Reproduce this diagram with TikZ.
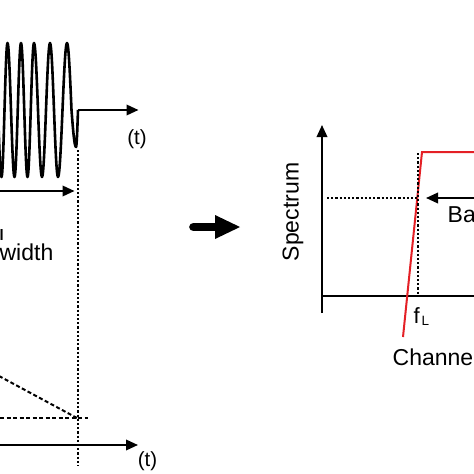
\documentclass[tikz,border=0pt]{standalone}
\usepackage{fontspec}
\setmainfont{Liberation Sans}
\usetikzlibrary{arrows.meta}
\definecolor{specred}{RGB}{228,32,38}
\tikzset{
 axis/.style={line width=2pt, -{Triangle[length=12pt,width=10.5pt]}},
 dotline/.style={line width=2pt, dash pattern=on 2.2pt off 2pt},
 dashline/.style={line width=2pt, dash pattern=on 4pt off 2.5pt},
 lab/.style={inner sep=0pt, font=\fontsize{23}{27}\selectfont},
 tlab/.style={inner sep=0pt, font=\fontsize{20.5}{24}\selectfont},
 wave/.style={line width=2.6pt, line join=round},
 redline/.style={specred, line width=2pt},
}
\begin{document}
\begin{tikzpicture}[x=1pt,y=-1pt]
\useasboundingbox (0,0) rectangle (474,474);
\clip (0,0) rectangle (474,474);
\fill[white] (0,0) rectangle (474,474);

% ---------- time-domain pulse ----------
\coordinate (w0) at (-2,110);
\coordinate (wend) at (78,110);
\draw[wave] (w0) sin (1.5,177) cos (4.5,110) sin (7.5,43) cos (11,110)
  sin (14.5,177) cos (17.75,110) sin (21,43) cos (24.25,110)
  sin (27.5,177) cos (30.75,110) sin (34,43) cos (38,110)
  sin (42,177) cos (46,110) sin (50,43) cos (54,110)
  sin (58,177) cos (62.5,110) sin (67,43) cos (71.5,110)
  sin (76,147) cos (wend);
\coordinate (t1end) at (138.5,110);
\draw[axis] (wend) -- (t1end);
\node[tlab] (t1) at (137,139) {(t)};

% pulse width arrow
\coordinate (pwA) at (-2,191);
\coordinate (pwB) at (74.5,191);
\draw[axis] (pwA) -- (pwB);
\begin{scope}
  \clip (0,229) rectangle (6,242);
  \node[lab, anchor=base west] (frag) at (-1.2,240) {l};
\end{scope}
\node[lab, anchor=base east] (wlab) at (53.5,260) {width};

% vertical dotted marker
\coordinate (vA) at (78,150);
\coordinate (vB) at (78,466);
\draw[dotline] (vA) -- (vB);

% lower time axis
\coordinate (sA) at (-1,376);
\coordinate (sB) at (77,418);
\draw[dashline] (sA) -- (sB);
\coordinate (hA) at (0,418);
\coordinate (hB) at (88,418);
\draw[dashline] (hA) -- (hB);
\coordinate (bA) at (-2,445);
\coordinate (bB) at (138,445);
\draw[axis] (bA) -- (bB);
\node[tlab] (t2) at (147.5,461.5) {(t)};

% ---------- big transition arrow ----------
\coordinate (baA) at (193.5,227);
\coordinate (baB) at (217,227);
\draw[line width=8.7pt, line cap=round] (baA) -- (baB);
\fill (215,215) -- (240,227) -- (215,239) -- cycle;

% ---------- spectrum ----------
\coordinate (yA) at (322,313);
\coordinate (yB) at (322,125);
\draw[axis] (yA) -- (yB);
\coordinate (xA) at (321,295.5);
\coordinate (xB) at (480,295.5);
\draw[line width=2pt] (xA) -- (xB);
\node[lab, rotate=90] (spec) at (293,212) {Spectrum};

\coordinate (r0) at (403,337);
\coordinate (r1) at (422,152);
\coordinate (r2) at (480,152);
\draw[redline] (r0) -- (r1) -- (r2);

\coordinate (fA) at (418,153);
\coordinate (fB) at (418,295);
\draw[dotline] (fA) -- (fB);
\coordinate (dA) at (327,198);
\coordinate (dB) at (418,198);
\draw[dotline] (dA) -- (dB);
\coordinate (bwA) at (480,198);
\coordinate (bwB) at (426,198);
\draw[axis] (bwA) -- (bwB);
\node[lab, anchor=base west] (ba) at (447.5,222) {Ba};

\node[inner sep=0pt, anchor=base west, font=\fontsize{22}{26}\selectfont] (f) at (413.5,323) {f};
\node[inner sep=0pt, anchor=base west, font=\fontsize{13.5}{16}\selectfont] (fl) at (421.5,325.5) {L};
\node[lab, anchor=base west] (ch) at (392.5,365) {Channe};
\end{tikzpicture}
\end{document}
